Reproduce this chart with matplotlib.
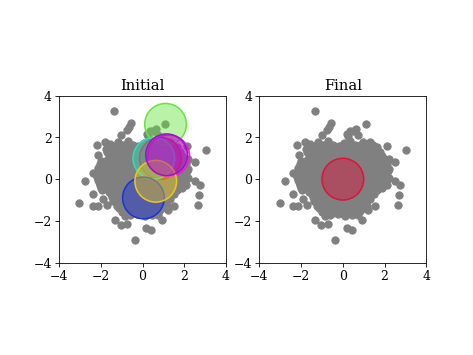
import matplotlib
matplotlib.use("Agg")
import matplotlib.pyplot as plt
from matplotlib.patches import Circle

plt.rcParams['font.family'] = ['DejaVu Serif']
plt.rcParams['font.size'] = 12

# core of the point cloud
core_x = [-1.55,-1.2,-0.95,-0.7,0.05,0.35,0.6,0.95,1.3,
          -1.75,-1.45,-1.1,-0.8,-0.5,-0.2,0.15,0.45,0.75,1.05,1.35,1.65,
          -1.7,-1.4,-1.15,-0.85,-0.55,-0.3,0.0,0.3,0.6,0.9,1.2,1.5,1.8,
          -1.55,-1.3,-1.0,-0.7,-0.45,-0.15,0.2,0.5,0.8,1.1,1.4,1.7,1.95,2.2,
          -2.05,-1.75,-1.45,-1.2,-0.9,-0.6,-0.3,0.0,0.3,0.65,0.95,1.25,1.55,1.85,2.1,
          -1.95,-1.65,-1.35,-1.05,-0.8,-0.5,-0.2,0.1,0.4,0.7,1.0,1.3,1.6,1.9,2.2,
          -2.1,-1.8,-1.5,-1.25,-0.95,-0.65,-0.35,-0.05,0.25,0.55,0.85,1.15,1.45,1.75,2.05,
          -2.15,-1.9,-1.6,-1.3,-1.0,-0.7,-0.4,-0.1,0.2,0.5,0.8,1.1,1.4,1.7,2.0,2.2,
          -2.05,-1.75,-1.45,-1.15,-0.85,-0.55,-0.25,0.05,0.35,0.65,0.95,1.25,1.55,1.85,2.1,
          -1.95,-1.65,-1.35,-1.05,-0.75,-0.45,-0.15,0.15,0.45,0.75,1.05,1.35,1.65,
          -1.5,-1.2,-0.9,-0.6,-0.3,0.0,0.3,0.6,0.9,1.2,1.5,
          -1.4,-1.1,-0.8,-0.5,-0.2,0.1,0.4,0.7,1.0,1.3,
          -1.25,-0.95,-0.65,-0.35,-0.05,0.25,0.55,0.85,1.15,
          -1.0,-0.7,-0.4,-0.1,0.2,0.5,0.8,
          -0.6,-0.25,0.1,0.45]
core_y = [1.68,1.78,1.62,1.82,1.72,1.85,1.66,1.78,1.62,
          1.45,1.55,1.42,1.53,1.47,1.58,1.44,1.52,1.41,1.56,1.46,1.52,
          1.3,1.2,1.28,1.18,1.27,1.21,1.31,1.2,1.27,1.17,1.29,1.22,1.28,
          1.05,0.93,1.02,0.96,1.06,0.95,1.03,0.94,1.04,0.98,1.06,0.95,1.03,0.97,
          0.72,0.8,0.7,0.78,0.73,0.81,0.69,0.77,0.71,0.8,0.72,0.78,0.7,0.77,0.73,
          0.47,0.55,0.45,0.52,0.46,0.55,0.48,0.53,0.44,0.52,0.47,0.55,0.46,0.53,0.5,
          0.22,0.28,0.2,0.3,0.23,0.29,0.2,0.27,0.22,0.3,0.21,0.28,0.23,0.29,0.2,
          -0.02,0.05,-0.04,0.03,-0.05,0.04,-0.03,0.05,-0.04,0.03,-0.02,0.05,-0.05,0.02,-0.03,0.04,
          -0.28,-0.2,-0.3,-0.22,-0.27,-0.19,-0.29,-0.23,-0.3,-0.21,-0.27,-0.2,-0.29,-0.22,-0.26,
          -0.53,-0.45,-0.55,-0.47,-0.52,-0.44,-0.54,-0.48,-0.55,-0.46,-0.52,-0.45,-0.54,
          -0.7,-0.8,-0.72,-0.79,-0.71,-0.8,-0.73,-0.78,-0.7,-0.79,-0.72,
          -1.05,-0.95,-1.04,-0.96,-1.06,-0.98,-1.03,-0.95,-1.05,-0.97,
          -1.3,-1.2,-1.28,-1.21,-1.3,-1.23,-1.29,-1.2,-1.27,
          -1.55,-1.45,-1.53,-1.46,-1.55,-1.48,-1.52,
          -1.72,-1.68,-1.75,-1.7]

# in-between points of the core
core2_x = [-1.35,-1.05,-0.8,-0.45,-0.1,0.2,0.5,0.8,1.1,1.45,
           -1.6,-1.25,-0.95,-0.65,-0.4,-0.05,0.3,0.6,0.9,1.2,1.5,
           -1.6,-1.3,-1.0,-0.7,-0.4,-0.1,0.15,0.45,0.75,1.05,1.35,1.65,1.9,
           -2.0,-1.7,-1.4,-1.05,-0.8,-0.55,-0.25,0.1,0.4,0.7,0.95,1.25,1.55,1.8,2.05,
           -2.1,-1.8,-1.5,-1.2,-0.95,-0.65,-0.35,-0.05,0.25,0.55,0.85,1.15,1.45,1.75,2.05,
           -2.0,-1.7,-1.4,-1.1,-0.8,-0.5,-0.2,0.1,0.4,0.7,1.0,1.3,1.6,1.9,2.15,
           -2.2,-1.95,-1.65,-1.35,-1.1,-0.8,-0.5,-0.2,0.1,0.4,0.7,1.0,1.3,1.6,1.9,2.1,
           -2.1,-1.8,-1.5,-1.2,-0.9,-0.6,-0.3,0.0,0.3,0.6,0.9,1.2,1.5,1.8,2.05,
           -2.0,-1.7,-1.4,-1.1,-0.8,-0.5,-0.2,0.1,0.4,0.7,1.0,1.3,1.6,1.9,
           -1.6,-1.3,-1.0,-0.7,-0.4,-0.1,0.2,0.5,0.8,1.1,1.4,
           -1.45,-1.15,-0.85,-0.55,-0.25,0.05,0.35,0.65,0.95,1.25,
           -1.3,-1.0,-0.7,-0.4,-0.1,0.2,0.5,0.8,1.1,
           -1.15,-0.85,-0.55,-0.25,0.05,0.35,0.65,0.95,
           -0.75,-0.45,-0.1,0.25,0.6]
core2_y = [1.6,1.66,1.58,1.64,1.6,1.67,1.57,1.63,1.59,1.65,
           1.4,1.33,1.38,1.36,1.41,1.34,1.39,1.35,1.4,1.33,1.37,
           1.14,1.09,1.13,1.11,1.15,1.1,1.13,1.08,1.14,1.1,1.13,1.09,1.12,
           0.85,0.9,0.86,0.89,0.84,0.88,0.86,0.9,0.85,0.88,0.84,0.89,0.86,0.9,0.85,
           0.6,0.64,0.61,0.65,0.6,0.63,0.62,0.65,0.59,0.64,0.61,0.63,0.6,0.64,0.62,
           0.35,0.39,0.36,0.4,0.34,0.38,0.36,0.39,0.35,0.38,0.36,0.4,0.35,0.38,0.37,
           0.1,0.14,0.11,0.13,0.1,0.14,0.12,0.1,0.13,0.11,0.14,0.1,0.13,0.12,0.1,0.14,
           -0.15,-0.11,-0.14,-0.1,-0.15,-0.12,-0.14,-0.11,-0.15,-0.12,-0.1,-0.14,-0.12,-0.15,-0.11,
           -0.4,-0.36,-0.39,-0.35,-0.4,-0.37,-0.39,-0.36,-0.4,-0.37,-0.35,-0.39,-0.36,-0.4,
           -0.61,-0.64,-0.6,-0.65,-0.62,-0.64,-0.61,-0.65,-0.62,-0.6,-0.64,
           -0.86,-0.89,-0.85,-0.9,-0.87,-0.89,-0.86,-0.9,-0.87,-0.85,
           -1.11,-1.14,-1.1,-1.15,-1.12,-1.14,-1.11,-1.15,-1.12,
           -1.36,-1.39,-1.35,-1.4,-1.37,-1.39,-1.36,-1.4,
           -1.6,-1.64,-1.61,-1.63,-1.6]

# outlying points
outer_x = [-1.35,-0.58,-0.67,-0.77,-1.02,-1.82,-2.19,-2.12,-2.38,-2.14,-2.78,-2.38,
           -3.03,-2.38,-2.14,-1.34,-0.86,-1.05,-0.73,-0.38,0.18,0.42,0.94,0.72,1.2,
           1.52,2.65,2.71,2.73,2.49,2.49,2.15,3.03,2.14,1.64,1.32,1.09,0.62,0.33,0.21,
           0.25,0.5,0.75,-1.9,-1.7]
outer_y = [3.27,2.67,2.52,2.38,2.1,1.76,1.66,1.17,0.29,0.53,-0.08,-0.70,
           -1.12,-1.27,-1.27,-1.97,-1.78,-2.21,-2.15,-2.90,-2.34,-2.42,-1.94,-1.73,-1.49,
           -1.29,-1.22,-0.75,-0.30,-0.11,0.80,0.91,1.40,1.60,1.39,1.76,2.63,2.40,2.33,2.17,
           2.07,2.3,2.1,-0.93,-1.25]

# initial component circles (in drawing order)
init_cx = [1.10, 0.85, 0.54, 1.25, 0.04, 0.63, 1.15]
init_cy = [2.63, 1.00, 1.00, 1.12, -0.90, -0.10, 1.17]
init_r = [1.0, 1.0, 1.0, 1.0, 1.0, 1.0, 1.0]
init_colors = ['#66e63c', '#dc143c', '#2ee0b8', '#e620d0', '#1e32dc', '#e8c81e', '#9a14c8']

final_cx = [0.0]
final_cy = [0.0]
final_r = [1.0]
final_colors = ['#dc143c']

px = core_x + core2_x + outer_x
py = core_y + core2_y + outer_y

fig, axes = plt.subplots(1, 2, figsize=(6.4, 4.8), dpi=74)
panels = [("Initial", init_cx, init_cy, init_r, init_colors),
          ("Final", final_cx, final_cy, final_r, final_colors)]
for ax, (title, cx, cy, rr, cols) in zip(axes, panels):
    ax.scatter(px, py, s=50, color='gray', zorder=1)
    for x, y, r, c in zip(cx, cy, rr, cols):
        fc = matplotlib.colors.to_rgba(c, 0.45)
        ax.add_patch(Circle((x, y), r, facecolor=fc, edgecolor=c, lw=1.5, zorder=2))
    ax.set_xlim(-4, 4)
    ax.set_ylim(-4, 4)
    ax.set_aspect('equal')
    ax.set_xticks([-4, -2, 0, 2, 4])
    ax.set_yticks([-4, -2, 0, 2, 4])
    ax.set_title(title)

fig.savefig("out.png", dpi=74)
